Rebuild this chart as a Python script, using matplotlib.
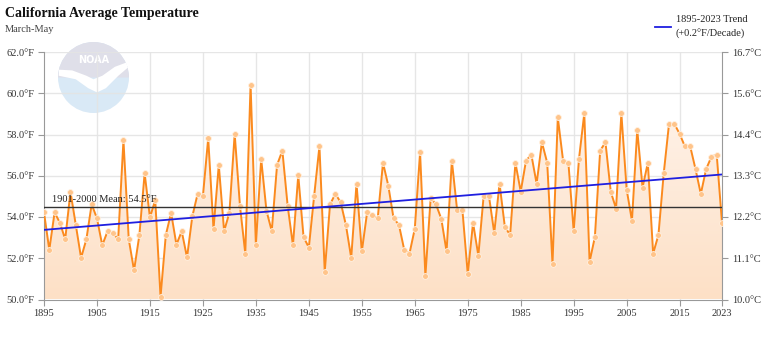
import matplotlib.pyplot as plt
import numpy as np
from matplotlib.colors import LinearSegmentedColormap
from matplotlib.patches import Circle, Wedge, Polygon

plt.rcParams['font.family'] = ['Liberation Serif', 'DejaVu Serif']

# March-May mean temperature, California (deg F)
years = np.arange(1895, 2024)
temps = [
    54.22, 52.41, 54.22, 53.72, 52.92, 55.22, 53.61, 52.02, 52.92, 54.62,  # 1895-1904
    53.93, 52.63, 53.31, 53.23, 52.92, 57.72, 52.92, 51.41, 53.11, 56.12,  # 1905-1914
    53.98, 54.82, 50.13, 53.13, 54.20, 52.66, 53.31, 52.04, 54.03, 55.12,  # 1915-1924
    55.01, 57.82, 53.42, 56.52, 53.32, 54.20, 58.03, 54.53, 52.23, 60.42,  # 1925-1934
    52.65, 56.82, 54.30, 53.32, 56.52, 57.22, 54.54, 52.63, 56.02, 53.03,  # 1935-1944
    52.52, 55.02, 57.43, 51.35, 54.61, 55.12, 54.72, 53.61, 52.02, 55.62,  # 1945-1954
    52.33, 54.22, 54.11, 53.93, 56.63, 55.52, 53.93, 53.63, 52.42, 52.23,  # 1955-1964
    53.43, 57.13, 51.14, 54.93, 54.61, 53.92, 52.33, 56.73, 54.32, 54.32,  # 1965-1974
    51.24, 53.72, 52.13, 55.02, 55.02, 53.23, 55.62, 53.53, 53.13, 56.63,  # 1975-1984
    55.23, 56.73, 57.03, 55.62, 57.62, 56.63, 51.73, 58.83, 56.73, 56.63,  # 1985-1994
    53.32, 56.82, 59.02, 51.83, 53.03, 57.22, 57.62, 55.22, 54.41, 59.02,  # 1995-2004
    55.33, 53.82, 58.22, 55.43, 56.63, 52.23, 53.13, 56.12, 58.52, 58.52,  # 2005-2014
    58.03, 57.42, 57.42, 56.32, 55.12, 56.32, 56.92, 57.03, 53.72,         # 2015-2023
]
temps = np.array(temps)
base_mean = 54.5
x_ticks = [1895, 1905, 1915, 1925, 1935, 1945, 1955, 1965, 1975, 1985, 1995, 2005, 2015, 2023]
f_ticks = [50, 52, 54, 56, 58, 60, 62]

fig = plt.figure(figsize=(7.68, 3.46), dpi=100)

# faint NOAA badge, sits under the plot area
ax_logo = fig.add_axes([58 / 768, 1 - 113 / 346, 71 / 768, 71 / 346])
ax_logo.set_xlim(-1, 1)
ax_logo.set_ylim(-1, 1)
ax_logo.set_aspect('equal')
ax_logo.axis('off')
ax_logo.add_patch(Circle((0, 0), 1, color='#d9e9f6', lw=0))
ax_logo.add_patch(Wedge((0, 0), 1, 0, 180, color='#dfdfe9', lw=0))
gull = [(-0.97, 0.22), (-0.6, 0.2), (-0.2, 0.05), (0.0, -0.05), (0.25, 0.05),
        (0.6, 0.3), (0.92, 0.42), (0.97, 0.28), (0.7, 0.05), (0.35, -0.3),
        (0.1, -0.42), (-0.15, -0.3), (-0.5, -0.05), (-0.98, 0.05)]
ax_logo.add_patch(Polygon(gull, closed=True, color='white', lw=0))
ax_logo.text(0, 0.5, 'NOAA', color='white', ha='center', va='center',
             fontsize=7, fontweight='bold', family='DejaVu Sans')

ax = fig.add_axes([44 / 768, 1 - 299.5 / 346, (722 - 44) / 768, (299.5 - 52) / 346])
ax.patch.set_alpha(0)
ax.set_xlim(1895, 2023)
ax.set_ylim(50, 62)

# light grid
for yv in f_ticks[1:]:
    ax.axhline(yv, color='#e4e4e4', lw=1, zorder=0, alpha=0.9)
for xv in x_ticks[1:-1]:
    ax.axvline(xv, color='#e4e4e4', lw=1, zorder=0, alpha=0.9)

# gradient area under the series
fill = ax.fill_between(years, temps, 50, color='none', lw=0)
grad = LinearSegmentedColormap.from_list('peach', ['#fde0c6', '#fff5ee'])
img = ax.imshow(np.linspace(0, 1, 256).reshape(-1, 1), cmap=grad, aspect='auto',
                extent=[1895, 2023, 50, 61], origin='lower', zorder=1)
img.set_clip_path(fill.get_paths()[0], transform=ax.transData)

ax.plot(years, temps, color='#fb8a1e', lw=1.4, zorder=3,
        marker='o', ms=4.2, mfc='#ffc48a', mec='#fff1e2', mew=0.6)

# 1901-2000 baseline
ax.axhline(base_mean, color='#333333', lw=1, zorder=4)
ax.text(1896.5, base_mean + 0.12, '1901-2000 Mean: 54.5°F', fontsize=7.5,
        color='#222222', va='bottom', zorder=5)

# linear trend
coef = np.polyfit(years, temps, 1)
ax.plot(years, np.polyval(coef, years), color='#1f1fe0', lw=1.3, zorder=4)

ax.set_xticks(x_ticks)
ax.set_xticklabels([str(t) for t in x_ticks], fontsize=7.5, color='#333333')
ax.set_yticks(f_ticks)
ax.set_yticklabels([f'{t:.1f}°F' for t in f_ticks], fontsize=7.5, color='#333333')
ax.tick_params(axis='both', length=4, color='#999999', pad=3)
for side in ['left', 'right', 'bottom']:
    ax.spines[side].set_color('#999999')
ax.spines['top'].set_visible(False)

axr = ax.twinx()
axr.set_ylim(50, 62)
axr.set_yticks(f_ticks)
axr.set_yticklabels([f'{(t - 32) * 5 / 9:.1f}°C' for t in f_ticks], fontsize=7.5, color='#333333')
axr.tick_params(axis='y', length=4, color='#999999', pad=3)
for side in ['left', 'right', 'bottom', 'top']:
    axr.spines[side].set_visible(False)

fig.text(5 / 768, 1 - 14 / 346, 'California Average Temperature', fontsize=10,
         fontweight='bold', va='center', color='#111111')
fig.text(5 / 768, 1 - 30 / 346, 'March-May', fontsize=7.5, va='center', color='#444444')

# legend for trend line
fig.add_artist(plt.Line2D([655 / 768, 671 / 768], [1 - 27 / 346, 1 - 27 / 346],
                          color='#1f1fe0', lw=1.3))
fig.text(676 / 768, 1 - 19 / 346, '1895-2023 Trend', fontsize=7.5, va='center', color='#222222')
fig.text(676 / 768, 1 - 34 / 346, '(+0.2°F/Decade)', fontsize=7.5, va='center', color='#222222')

fig.savefig('out.png', dpi=100)
